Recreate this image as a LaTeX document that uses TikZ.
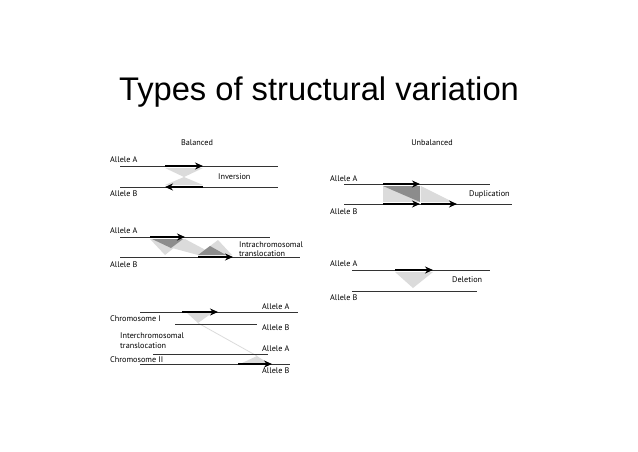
\documentclass[tikz,border=0pt]{standalone}
\usepackage{fontspec}
\setmainfont{Liberation Sans}
\newfontfamily\lblfont{PT Sans}
\usetikzlibrary{arrows.meta}
\definecolor{lightshade}{gray}{0.86}
\definecolor{darkshade}{gray}{0.55}
\definecolor{strand}{gray}{0.2}
\def\tip{Stealth[length=8pt,width=7pt]}
\tikzstyle{allele}=[draw=strand,line width=0.6pt]
\tikzstyle{segment}=[draw=black,line width=1.9pt,-{\tip}]
\tikzstyle{lbl}=[anchor=west,inner sep=0pt,text=black,
                 font=\lblfont\fontsize{8.2}{9.5}\selectfont]
\tikzstyle{head}=[lbl,anchor=center]

\begin{document}
\begin{tikzpicture}[x=1pt,y=-1pt]
  \useasboundingbox (0,0) rectangle (638,451);
  \node[font=\fontsize{32.7}{36}\selectfont] (title) at (319,92) {Types of structural variation};
  \node[head] (bal) at (197,143) {Balanced};
  \node[head] (unbal) at (432,143) {Unbalanced};

  % inversion
  \fill[lightshade] (165,168) -- (203,168) -- (184,177) -- cycle;
  \fill[lightshade] (165,185) -- (203,185) -- (184,177) -- cycle;
  \coordinate (invA0) at (120,166); \coordinate (invA1) at (278,166);
  \coordinate (invB0) at (120,187); \coordinate (invB1) at (278,187);
  \coordinate (invS0) at (165,166); \coordinate (invS1) at (203,166);
  \coordinate (invT0) at (203,187); \coordinate (invT1) at (165,187);
  \path[allele] (invA0) edge (invA1);
  \path[allele] (invB0) edge (invB1);
  \path (invS0) edge[segment] (invS1);
  \path (invT0) edge[segment] (invT1);
  \node[lbl] (invLA) at (110,160) {Allele A};
  \node[lbl] (invLB) at (110,194) {Allele B};
  \node[lbl] (inv) at (218,177) {Inversion};

  % intrachromosomal translocation
  \fill[lightshade] (150,239) -- (185,239) -- (165,255) -- cycle;
  \fill[lightshade] (172,248) -- (185,239) -- (215,255) -- (198,255) -- cycle;
  \fill[lightshade] (198,255) -- (232,255) -- (218,240) -- cycle;
  \fill[darkshade] (152,239) -- (183,239) -- (171,248) -- cycle;
  \fill[darkshade] (198,255) -- (226,255) -- (210,246) -- cycle;
  \coordinate (intA0) at (120,237); \coordinate (intA1) at (270,237);
  \coordinate (intB0) at (120,257); \coordinate (intB1) at (300,257);
  \coordinate (intS0) at (150,237); \coordinate (intS1) at (185,237);
  \coordinate (intT0) at (198,257); \coordinate (intT1) at (233,257);
  \path[allele] (intA0) edge (intA1);
  \path[allele] (intB0) edge (intB1);
  \path (intS0) edge[segment] (intS1);
  \path (intT0) edge[segment] (intT1);
  \node[lbl] (intLA) at (110,231) {Allele A};
  \node[lbl] (intLB) at (110,265) {Allele B};
  \node[lbl,align=left] (intra) at (239,249) {Intrachromosomal\\translocation};

  % interchromosomal translocation
  \fill[lightshade] (187,313) -- (212,313) -- (198,323) -- cycle;
  \fill[lightshade] (257,356) -- (268,363) -- (242,363) -- cycle;
  \coordinate (xtop) at (198,323); \coordinate (xbot) at (257,356);
  \path[draw=lightshade,line width=0.8pt] (xtop) edge (xbot);
  \coordinate (chIA0) at (140,312); \coordinate (chIA1) at (298,312);
  \coordinate (chIB0) at (175,324); \coordinate (chIB1) at (257,324);
  \coordinate (chIIA0) at (153,354); \coordinate (chIIA1) at (268,354);
  \coordinate (chIIB0) at (140,364); \coordinate (chIIB1) at (290,364);
  \coordinate (chS0) at (182,312); \coordinate (chS1) at (218,312);
  \coordinate (chT0) at (238,364); \coordinate (chT1) at (272,364);
  \path[allele] (chIA0) edge (chIA1);
  \path[allele] (chIB0) edge (chIB1);
  \path[allele] (chIIA0) edge (chIIA1);
  \path[allele] (chIIB0) edge (chIIB1);
  \path (chS0) edge[segment] (chS1);
  \path (chT0) edge[segment] (chT1);
  \node[lbl] (chIla) at (262,307) {Allele A};
  \node[lbl] (chIlb) at (262,328) {Allele B};
  \node[lbl] (chIIla) at (262,349) {Allele A};
  \node[lbl] (chIIlb) at (262,371) {Allele B};
  \node[lbl] (chI) at (110,319) {Chromosome I};
  \node[lbl] (chII) at (110,360) {Chromosome II};
  \node[lbl,align=left] (inter) at (120,340.5) {Interchromosomal\\translocation};

  % duplication
  \fill[lightshade] (383,186) rectangle (420,202);
  \fill[darkshade] (383,186) -- (420,186) -- (420,202) -- cycle;
  \fill[lightshade] (421,186) -- (421,202) -- (453,202) -- cycle;
  \coordinate (dupA0) at (344,184); \coordinate (dupA1) at (490,184);
  \coordinate (dupB0) at (344,204); \coordinate (dupB1) at (512,204);
  \coordinate (dupS0) at (383,184); \coordinate (dupS1) at (420,184);
  \coordinate (dupT0) at (383,204); \coordinate (dupT1) at (420,204);
  \coordinate (dupU0) at (421,204); \coordinate (dupU1) at (457,204);
  \path[allele] (dupA0) edge (dupA1);
  \path[allele] (dupB0) edge (dupB1);
  \path (dupS0) edge[segment] (dupS1);
  \path (dupT0) edge[segment] (dupT1);
  \path (dupU0) edge[segment] (dupU1);
  \node[lbl] (dupLA) at (330,179) {Allele A};
  \node[lbl] (dupLB) at (330,212) {Allele B};
  \node[lbl] (dup) at (469,194) {Duplication};

  % deletion
  \fill[lightshade] (395,272) -- (433,272) -- (413,288) -- cycle;
  \coordinate (delA0) at (352,270); \coordinate (delA1) at (490,270);
  \coordinate (delB0) at (352,291); \coordinate (delB1) at (477,291);
  \coordinate (delS0) at (395,270); \coordinate (delS1) at (433,270);
  \path[allele] (delA0) edge (delA1);
  \path[allele] (delB0) edge (delB1);
  \path (delS0) edge[segment] (delS1);
  \node[lbl] (delLA) at (330,264) {Allele A};
  \node[lbl] (delLB) at (330,298) {Allele B};
  \node[lbl] (del) at (452,280) {Deletion};
\end{tikzpicture}
\end{document}
